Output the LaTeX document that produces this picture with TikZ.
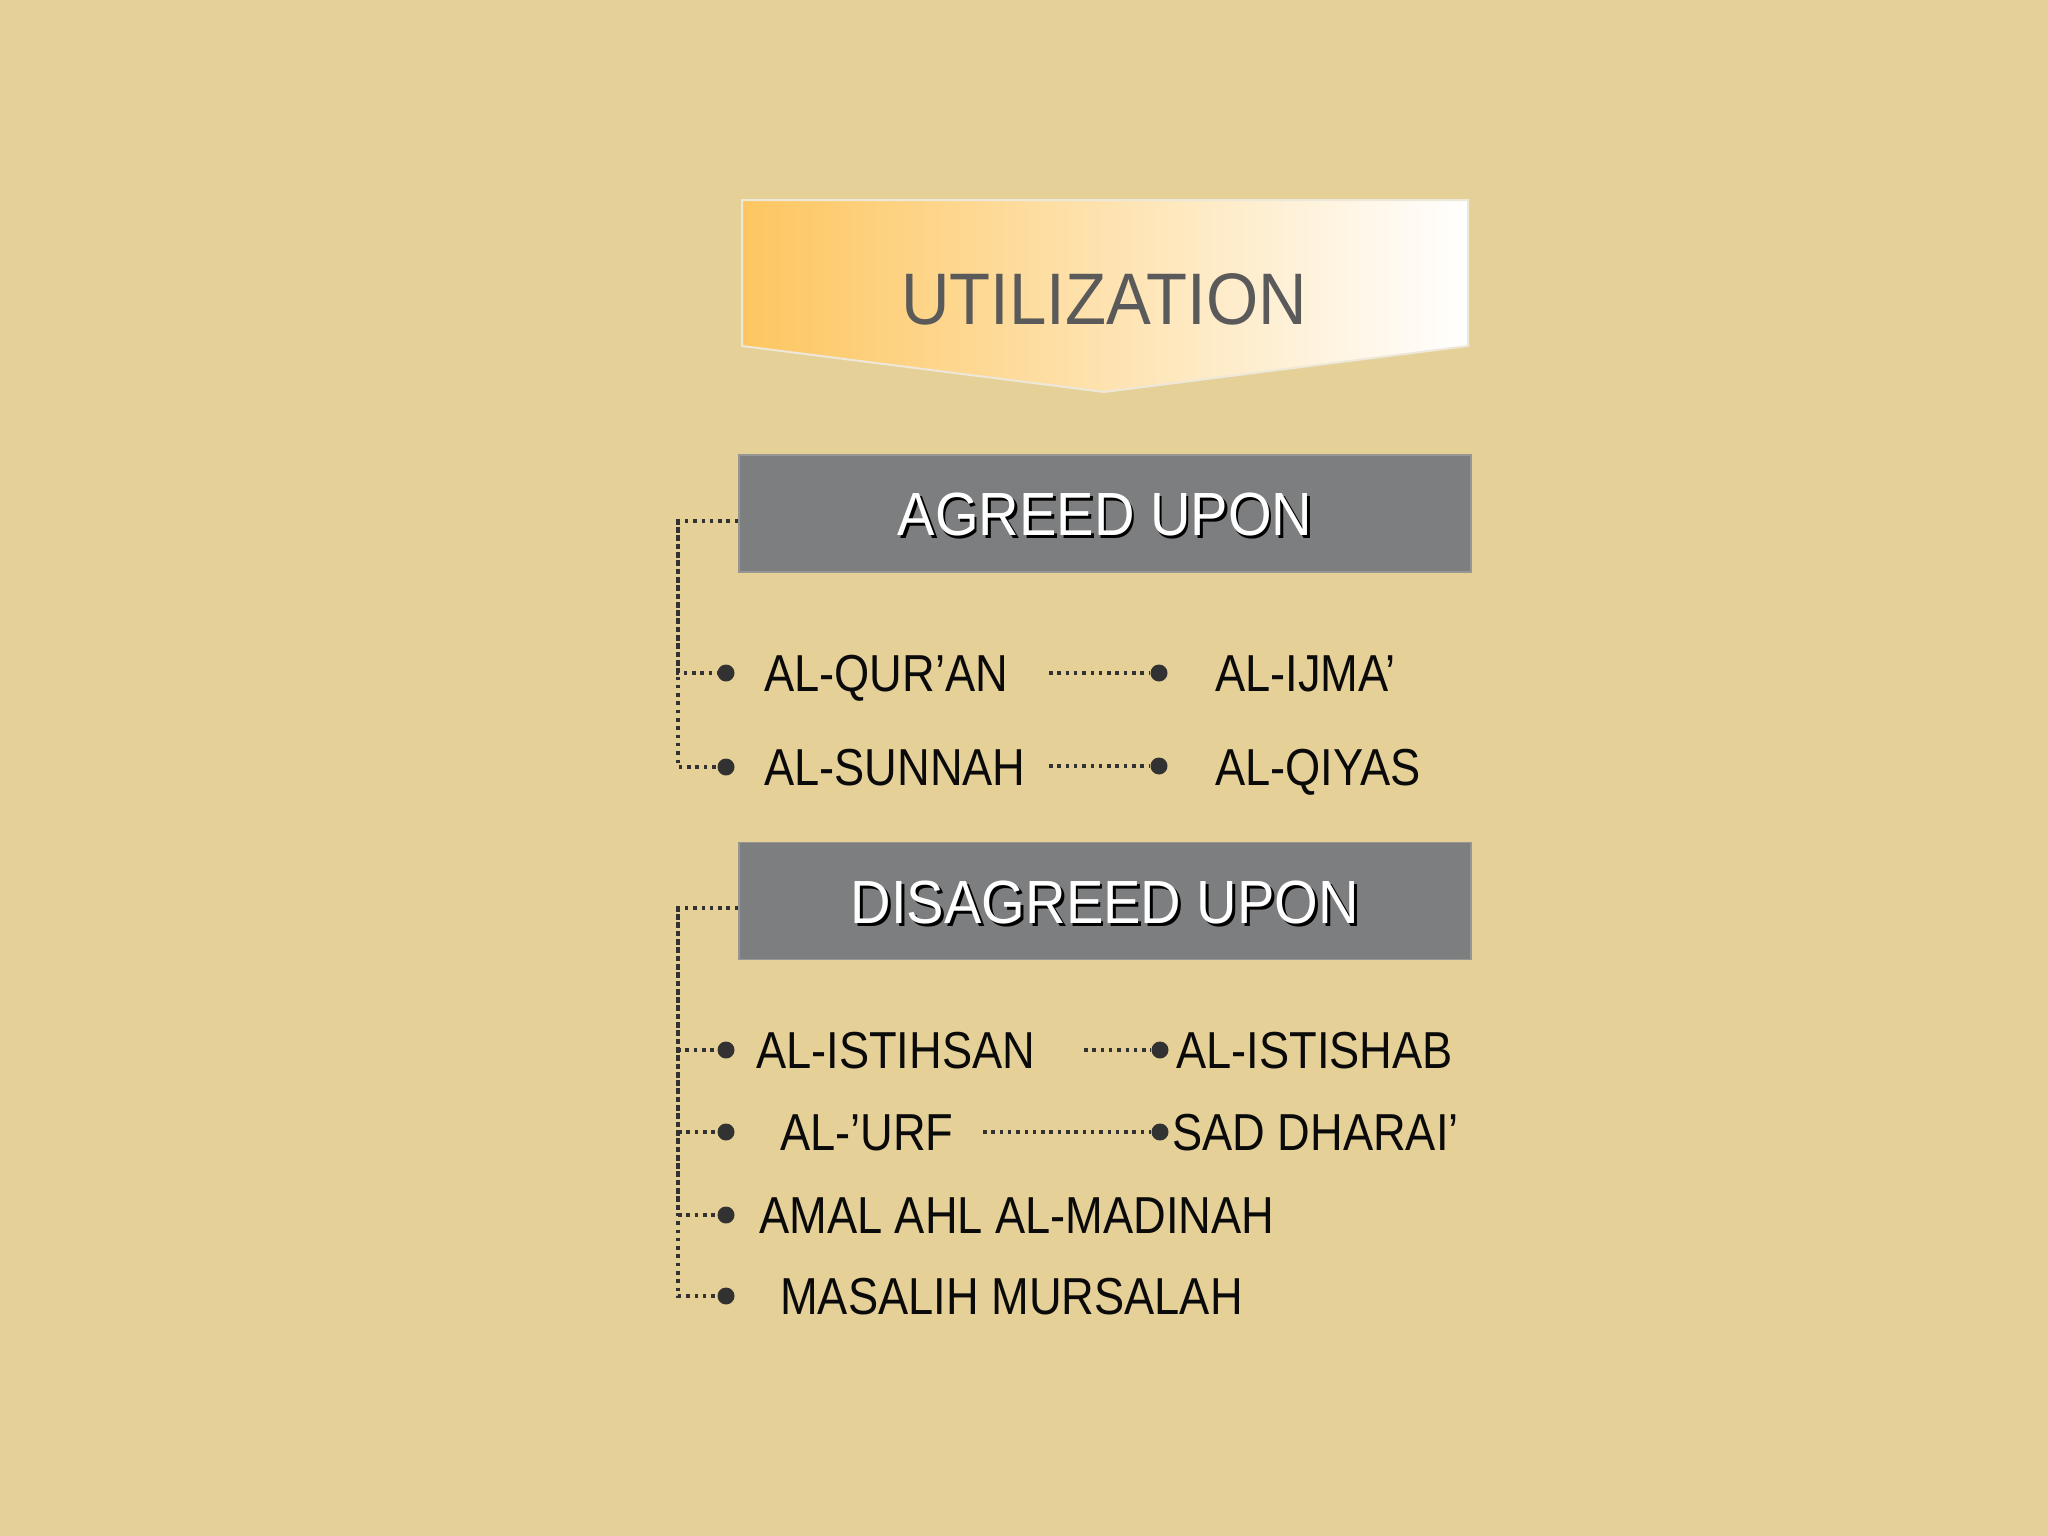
\documentclass[tikz,border=0pt]{standalone}
\usepackage{fontspec}
\setmainfont{Liberation Sans}
\usepackage{graphicx}
\definecolor{bgtan}{RGB}{229,208,152}
\definecolor{boxgray}{RGB}{124,126,127}
\definecolor{dotgray}{RGB}{50,50,50}
\definecolor{bantext}{RGB}{90,90,90}
\definecolor{banorange}{RGB}{253,198,96}
\newcommand\itx[1]{\scalebox{0.87}[1]{#1}}
\newcommand\shtx[1]{\scalebox{0.92}[1]{\rlap{\hspace{3pt}\raisebox{-3pt}{\color{black}#1}}\color{white}#1}}
\tikzset{
  itemtxt/.style={anchor=west,inner sep=0pt,text height=37.2pt,text depth=0pt,
    font=\fontsize{52}{60}\selectfont,text={rgb,255:red,10;green,10;blue,10}},
  graybox/.style={fill=boxgray,draw={rgb,255:red,150;green,150;blue,148},line width=1.5pt,
    minimum width=732pt,minimum height=117pt,inner sep=0pt,text height=44pt,text depth=0pt,
    font=\fontsize{61}{70}\selectfont},
  bul/.style={circle,fill=dotgray,inner sep=0pt,minimum size=17pt},
  dotln/.style={draw=dotgray,line width=3.5pt,dash pattern=on 3.5pt off 4.8pt},
}
\begin{document}
\begin{tikzpicture}[x=1pt,y=-1pt]
\useasboundingbox (0,0) rectangle (2048,1536);
\fill[bgtan] (0,0) rectangle (2048,1536);
% banner
\shade[left color=banorange,right color=white] (742,200) -- (1468,200) -- (1468,346) -- (1104,392) -- (742,346) -- cycle;
\draw[draw={rgb,255:red,238;green,232;blue,218},line width=2pt] (742,200) -- (1468,200) -- (1468,346) -- (1104,392) -- (742,346) -- cycle;
\node[inner sep=0pt,text height=52pt,text depth=0pt,font=\fontsize{73}{80}\selectfont,text=bantext] (title) at (1104,298) {\scalebox{0.92}[1]{UTILIZATION}};
% boxes
\node[graybox] (box1) at (1105,513.5) {\shtx{AGREED UPON}};
\node[graybox] (box2) at (1105,901) {\shtx{DISAGREED UPON}};
% group 1
\coordinate (c1) at (678,521);
\node[bul] (b1) at (726,673) {};
\node[bul] (b3) at (726,767) {};
\node[itemtxt] (t1) at (764,673) {\itx{AL-QUR’AN}};
\node[itemtxt] (t3) at (764,767) {\itx{AL-SUNNAH}};
\coordinate (d1) at (1049,673);
\coordinate (d2) at (1049,766);
\node[bul] (b2) at (1159,673) {};
\node[bul] (b4) at (1159,766) {};
\node[itemtxt] (t2) at (1215,673) {\itx{AL-IJMA’}};
\node[itemtxt] (t4) at (1215,767) {\itx{AL-QIYAS}};
\draw[dotln] (box1.west |- c1) -- (c1) |- (b3.west);
\draw[dotln] (c1) |- (b1.west);
\draw[dotln] (d1) -- (b2.west);
\draw[dotln] (d2) -- (b4.west);
% group 2
\coordinate (c2) at (678,908);
\node[bul] (b5) at (726,1050) {};
\node[bul] (b7) at (726,1132) {};
\node[bul] (b9) at (726,1215) {};
\node[bul] (b10) at (726,1296) {};
\node[itemtxt] (t5) at (756,1050) {\itx{AL-ISTIHSAN}};
\node[itemtxt] (t7) at (780,1132) {\itx{AL-’URF}};
\node[itemtxt] (t9) at (759,1215) {\itx{AMAL AHL AL-MADINAH}};
\node[itemtxt] (t10) at (780,1296) {\itx{MASALIH MURSALAH}};
\coordinate (d3) at (1084,1050);
\coordinate (d4) at (983,1132);
\node[bul] (b6) at (1160,1050) {};
\node[bul] (b8) at (1160,1132) {};
\node[itemtxt] (t6) at (1176,1050) {\itx{AL-ISTISHAB}};
\node[itemtxt] (t8) at (1172,1132) {\itx{SAD DHARAI’}};
\draw[dotln] (box2.west |- c2) -- (c2) |- (b10.west);
\draw[dotln] (c2) |- (b5.west);
\draw[dotln] (c2) |- (b7.west);
\draw[dotln] (c2) |- (b9.west);
\draw[dotln] (d3) -- (b6.west);
\draw[dotln] (d4) -- (b8.west);
\end{tikzpicture}
\end{document}
